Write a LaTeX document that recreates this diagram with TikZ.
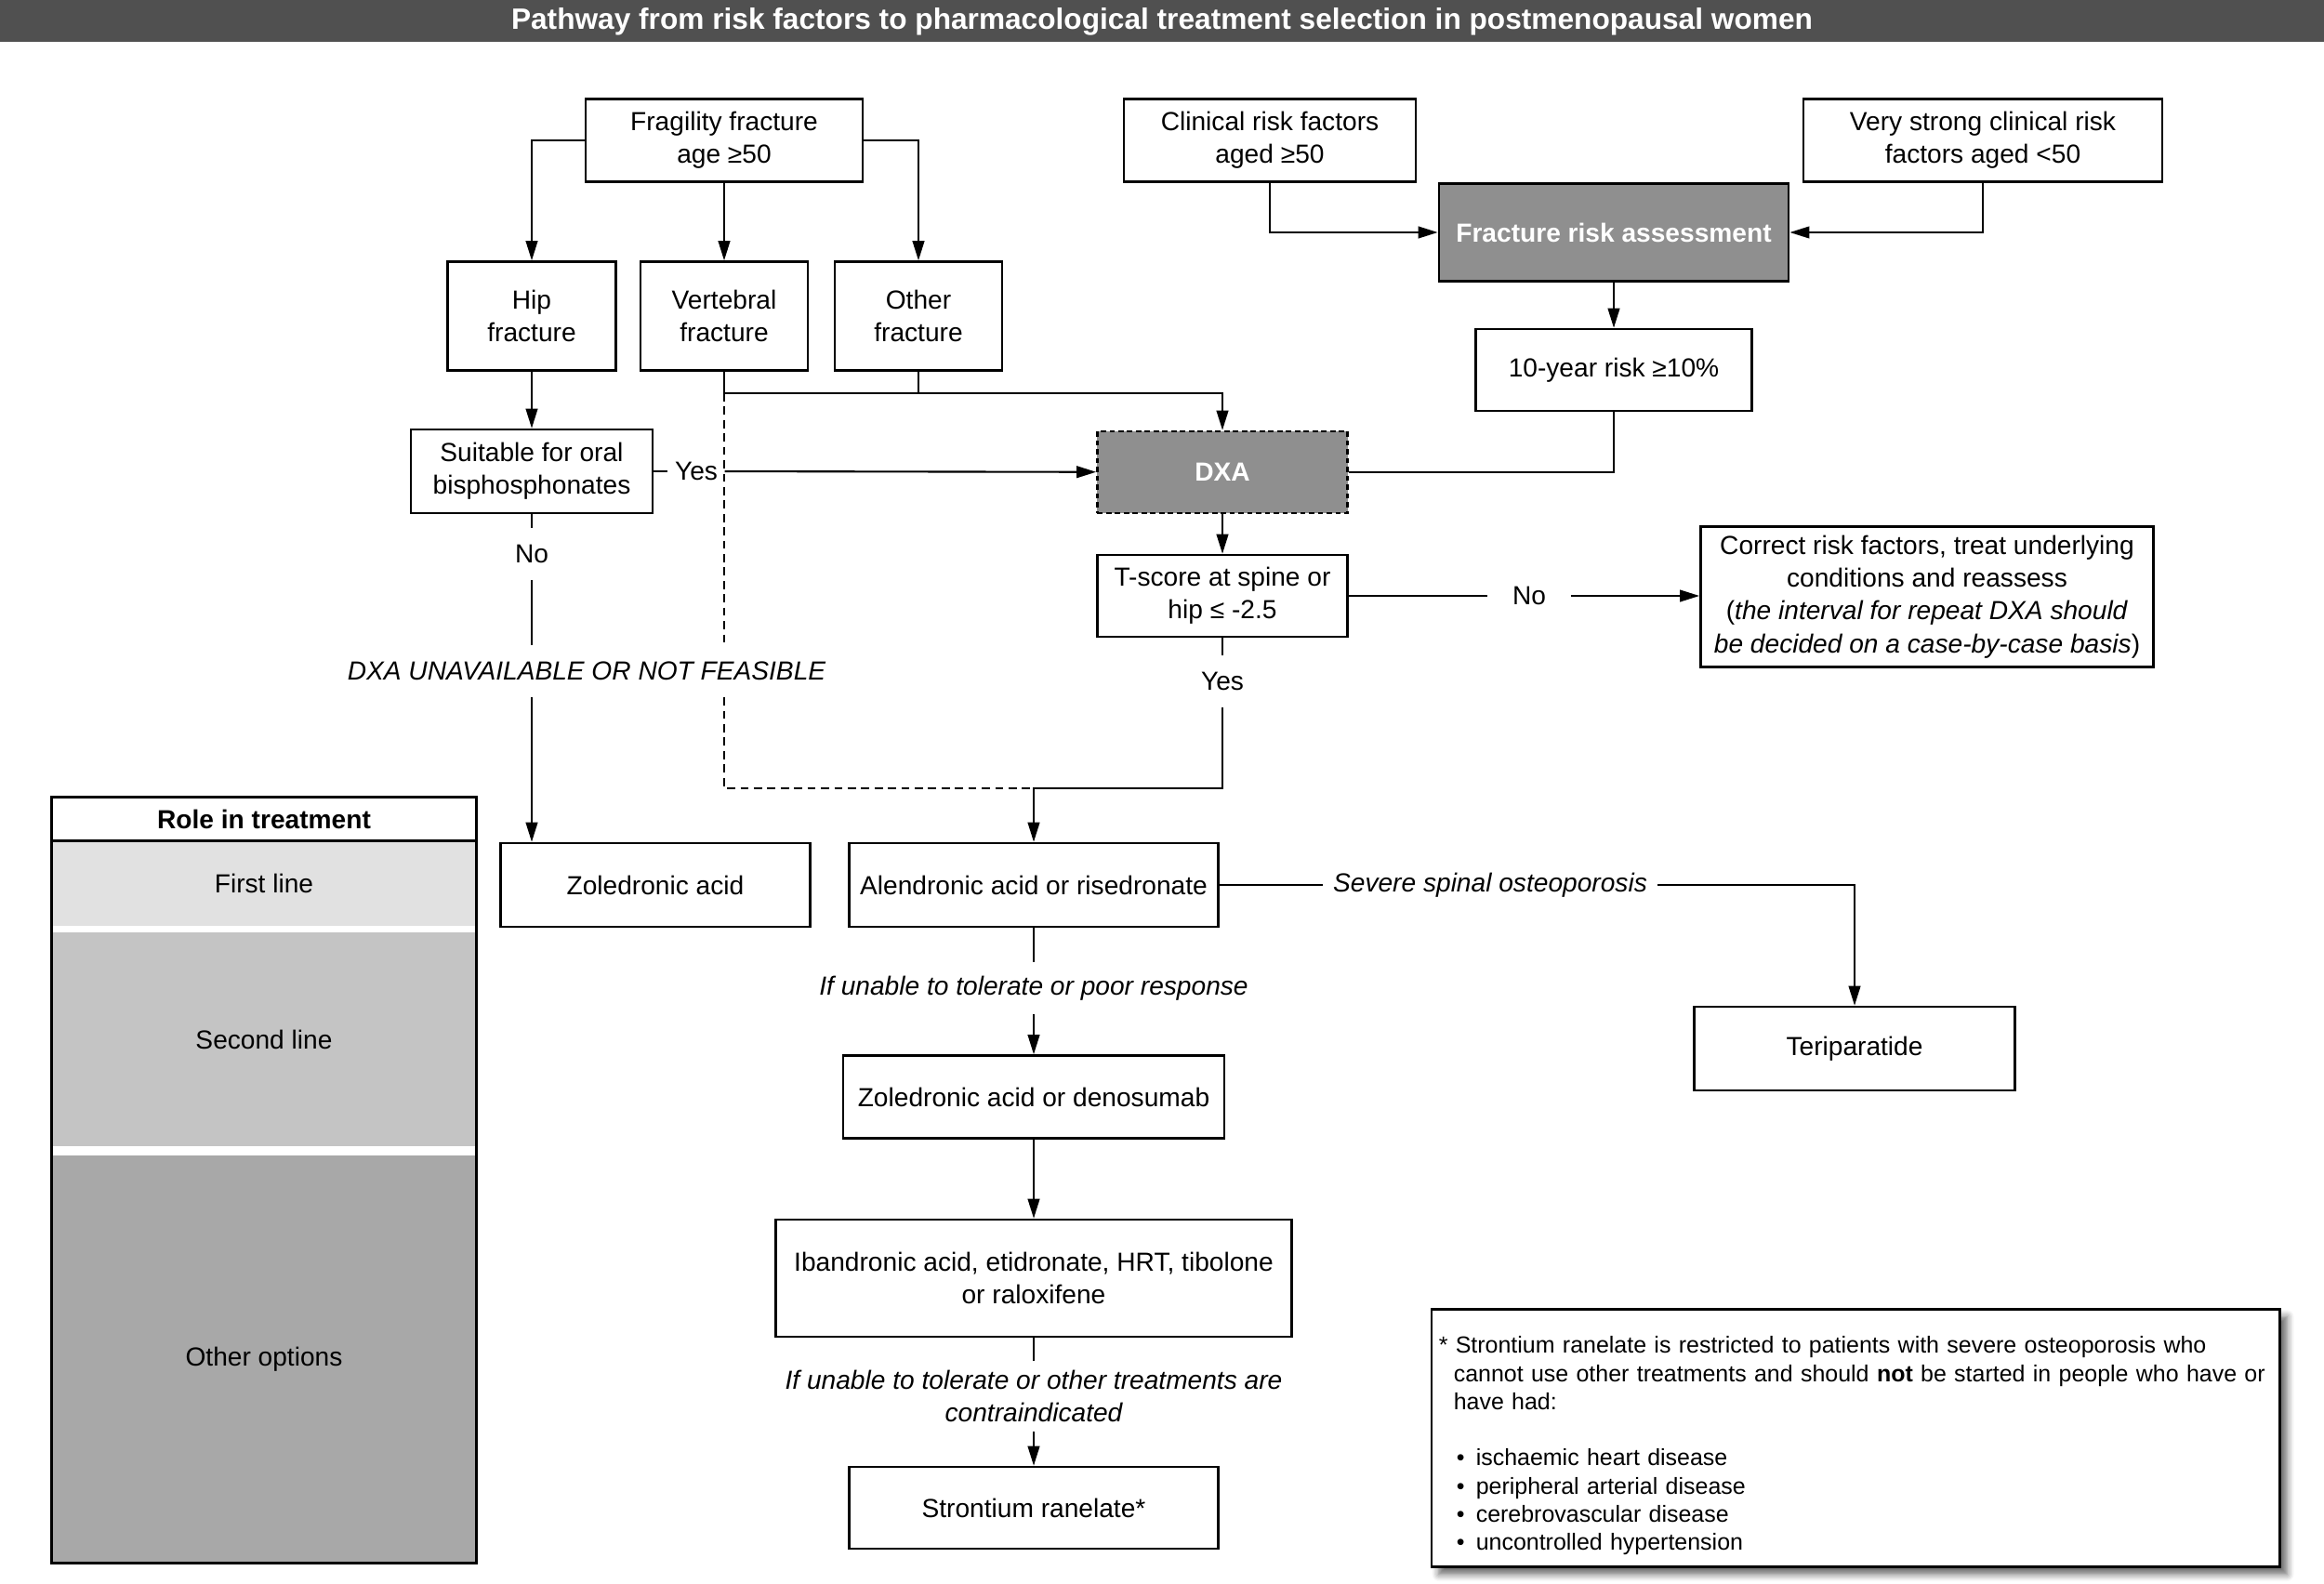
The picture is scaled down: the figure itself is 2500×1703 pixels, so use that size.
\documentclass[tikz,border=0pt]{standalone}
\usepackage{fontspec}
\setmainfont{Liberation Sans}
\usetikzlibrary{arrows.meta, shadows.blur}

\definecolor{barGrey}{HTML}{505050}
\definecolor{boxGrey}{HTML}{8F8F8F}
\definecolor{firstGrey}{HTML}{E1E1E1}
\definecolor{secondGrey}{HTML}{C4C4C4}
\definecolor{otherGrey}{HTML}{A8A8A8}

\begin{document}
\begin{tikzpicture}[x=0.01cm, y=-0.01cm,
		every node/.style={font=\fontsize{8}{10}\selectfont, align=center},
		box/.style={draw, line width=0.7pt, inner sep=0pt},
		greybox/.style={box, fill=boxGrey, text=white, font=\fontsize{8}{10}\selectfont\bfseries},
		cond/.style={font=\fontsize{8}{10}\selectfont\itshape},
		line/.style={line width=0.6pt},
		arr/.style={line, -{Triangle[length=6pt, width=3.6pt]}},
		dashline/.style={line, dash pattern=on 2.5pt off 1.6pt},
		vlbl/.style={inner xsep=1pt, inner ysep=0pt, minimum height=0.55cm},
		hlbl/.style={inner ysep=1pt, inner xsep=0.26cm},
		band/.style={inner sep=0pt, minimum width=4.56cm}
		]
		\useasboundingbox (0,0) rectangle (2500,1703);
		\fill[barGrey] (0,0) rectangle (2500,45);
		\node[text=white, font=\fontsize{9}{11}\selectfont\bfseries] (title) at (1250,23) {Pathway from risk factors to pharmacological treatment selection in postmenopausal women};

		% risk factors
		\node[box, minimum width=2.98cm, minimum height=0.89cm] (frag) at (779,151) {Fragility fracture\\age ≥50};
		\node[box, minimum width=1.81cm, minimum height=1.17cm] (hip) at (572,340) {Hip\\fracture};
		\node[box, minimum width=1.80cm, minimum height=1.17cm] (vert) at (779,340) {Vertebral\\fracture};
		\node[box, minimum width=1.80cm, minimum height=1.17cm] (other) at (988,340) {Other\\fracture};
		\node[box, minimum width=3.14cm, minimum height=0.89cm] (clin) at (1366,151) {Clinical risk factors\\aged ≥50};
		\node[box, minimum width=3.86cm, minimum height=0.89cm] (vstrong) at (2133,151) {Very strong clinical risk\\factors aged <50};
		\node[greybox, minimum width=3.76cm, minimum height=1.05cm] (fra) at (1736,250) {Fracture risk assessment};
		\node[box, minimum width=2.97cm, minimum height=0.88cm] (ten) at (1736,398) {10-year risk ≥10\%};
		\node[box, minimum width=2.60cm, minimum height=0.90cm] (suit) at (572,507) {Suitable for oral\\bisphosphonates};
		\node[greybox, dash pattern=on 1.6pt off 1.1pt, minimum width=2.69cm, minimum height=0.88cm] (dxa) at (1315,508) {DXA};
		\node[box, minimum width=2.69cm, minimum height=0.88cm] (tscore) at (1315,641) {T-score at spine or\\hip ≤ -2.5};
		\node[box, minimum width=4.87cm, minimum height=1.51cm] (correct) at (2073,642) {Correct risk factors, treat underlying\\conditions and reassess\\ (\textit{the interval for repeat DXA should}\\\textit{be decided on a case-by-case basis})};

		% treatments
		\node[box, minimum width=3.33cm, minimum height=0.90cm] (zol) at (705,952) {Zoledronic acid};
		\node[box, minimum width=3.97cm, minimum height=0.90cm] (alen) at (1112,952) {Alendronic acid or risedronate};
		\node[box, minimum width=3.45cm, minimum height=0.90cm] (teri) at (1995,1128) {Teriparatide};
		\node[box, minimum width=4.10cm, minimum height=0.89cm] (zoldeno) at (1112,1180) {Zoledronic acid or denosumab};
		\node[box, minimum width=5.55cm, minimum height=1.26cm] (iban) at (1112,1375) {Ibandronic acid, etidronate, HRT, tibolone\\or raloxifene};
		\node[box, minimum width=3.97cm, minimum height=0.88cm] (stron) at (1112,1622) {Strontium ranelate*};

		% labels on connectors
		\node[hlbl, inner xsep=2pt] (yes1) at (749,507) {Yes};
		\node[vlbl] (no1) at (572,596) {No};
		\node[vlbl, cond] (unavail) at (631,722) {DXA UNAVAILABLE OR NOT FEASIBLE};
		\node[hlbl] (no2) at (1645,641) {No};
		\node[vlbl] (yes2) at (1315,733) {Yes};
		\node[hlbl, cond, inner xsep=3pt] (severe) at (1603,952) {Severe spinal osteoporosis};
		\node[vlbl, cond] (poor) at (1112,1063) {If unable to tolerate or poor response};
		\node[vlbl, cond, minimum height=0.75cm] (contra) at (1112,1502) {If unable to tolerate or other treatments are\\contraindicated};

		\coordinate (j1) at (779,423);
		\coordinate (j2) at (1112,848);

		% connectors
		\draw[arr] (frag.west) -| (hip.north);
		\draw[arr] (frag) -- (vert);
		\draw[arr] (frag.east) -| (other.north);
		\draw[arr] (hip) -- (suit);
		\draw[line] (vert) -- (j1);
		\draw[line] (other) -- (other |- j1);
		\draw[arr] (j1) -| (dxa.north);
		\draw[line] (suit) -- (yes1);
		\draw[arr] (yes1) -- (dxa);
		\draw[dashline] (j1) -- (j1 |- unavail.north);
		\draw[dashline] (j1 |- unavail.south) |- (j2);
		\draw[line] (suit) -- (no1);
		\draw[line] (no1) -- (no1 |- unavail.north);
		\draw[arr] (no1 |- unavail.south) -- (no1 |- zol.north);
		\draw[arr] (clin.south) |- (fra.west);
		\draw[arr] (vstrong.south) |- (fra.east);
		\draw[arr] (fra) -- (ten);
		\draw[line] (ten.south) |- (dxa.east);
		\draw[arr] (dxa) -- (tscore);
		\draw[line] (tscore) -- (no2);
		\draw[arr] (no2) -- (no2 -| correct.west);
		\draw[line] (tscore) -- (yes2);
		\draw[arr] (yes2) |- (j2) -- (alen);
		\draw[line] (alen) -- (severe);
		\draw[arr] (severe) -| (teri);
		\draw[line] (alen) -- (poor);
		\draw[arr] (poor) -- (zoldeno);
		\draw[arr] (zoldeno) -- (iban);
		\draw[line] (iban) -- (contra);
		\draw[arr] (contra) -- (stron);

		% role in treatment key
		\node[band, fill=firstGrey, minimum height=0.92cm] (first) at (284,950) {First line};
		\node[band, fill=secondGrey, minimum height=2.29cm] (second) at (284,1118) {Second line};
		\node[band, fill=otherGrey, minimum height=4.38cm] (opts) at (284,1462) {Other options};
		\node[band, minimum height=0.46cm, font=\fontsize{8}{10}\selectfont\bfseries] (role) at (284,881) {Role in treatment};
		\draw[line width=0.8pt] (role.north west) rectangle (opts.south east);
		\draw[line width=0.8pt] (role.south west) -- (role.south east);

		% footnote
		\node[box, fill=white, blur shadow={shadow xshift=0.08cm, shadow yshift=-0.08cm, shadow opacity=60, shadow blur steps=6},
			minimum width=9.12cm, minimum height=2.77cm, text width=8.96cm, align=left,
			font=\fontsize{7.1}{8.6}\selectfont] (footnote) at (1996,1547) {\parindent=0pt
			\rule{0pt}{9.8pt}* Strontium ranelate is restricted to patients with severe osteoporosis who\\
			\hspace*{0.16cm}cannot use other treatments and should \textbf{not} be started in people who have or\\
			\hspace*{0.16cm}have had:\\[8.6pt]
			\hspace*{0.19cm}\makebox[0.21cm][l]{\textbullet}ischaemic heart disease\\
			\hspace*{0.19cm}\makebox[0.21cm][l]{\textbullet}peripheral arterial disease\\
			\hspace*{0.19cm}\makebox[0.21cm][l]{\textbullet}cerebrovascular disease\\
			\hspace*{0.19cm}\makebox[0.21cm][l]{\textbullet}uncontrolled hypertension};
\end{tikzpicture}
\end{document}
